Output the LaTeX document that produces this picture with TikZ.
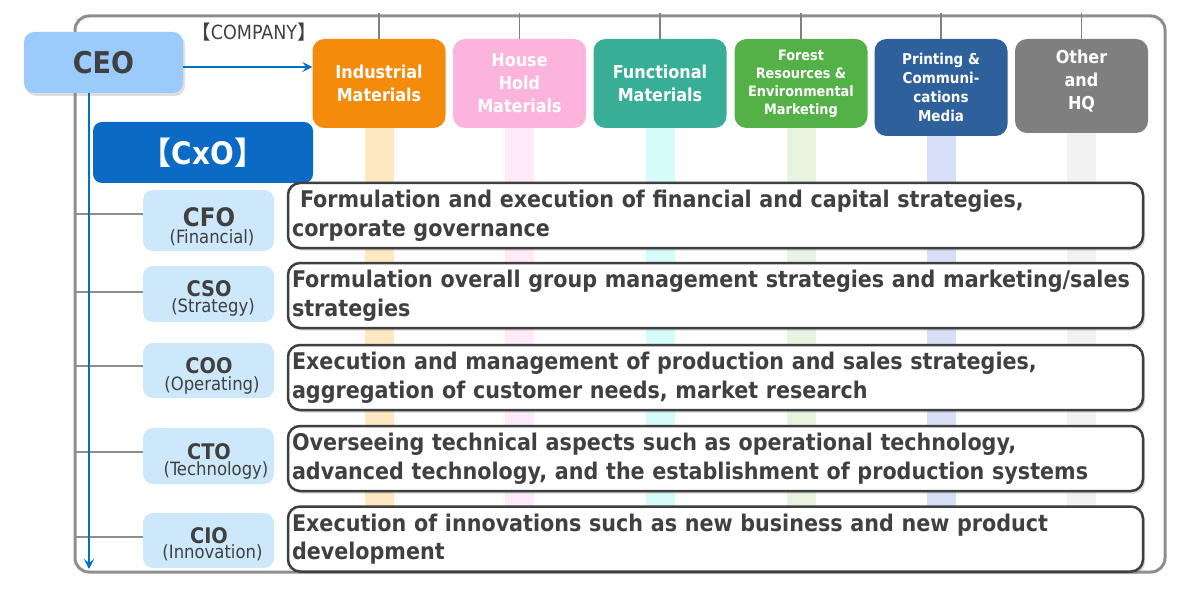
\documentclass[tikz,border=0pt]{standalone}
\usepackage{fontspec}
\setmainfont{DejaVu Sans Condensed}
\newfontfamily\cjk{Noto Sans CJK JP}
\usetikzlibrary{shadows,arrows.meta}
\definecolor{cInd}{HTML}{F58B0A}
\definecolor{cHouse}{HTML}{FDB4DC}
\definecolor{cFunc}{HTML}{39AE97}
\definecolor{cForest}{HTML}{54B147}
\definecolor{cPrint}{HTML}{2E619B}
\definecolor{cOther}{HTML}{7F7F7F}
\definecolor{bInd}{HTML}{FDE8C2}
\definecolor{bHouse}{HTML}{FDEAFB}
\definecolor{bFunc}{HTML}{D5FBFB}
\definecolor{bForest}{HTML}{E8F4E0}
\definecolor{bPrint}{HTML}{D8E0F8}
\definecolor{bOther}{HTML}{F2F2F2}
\definecolor{ceoc}{HTML}{9BCBFA}
\definecolor{rolec}{HTML}{CDE8FA}
\definecolor{cxoc}{HTML}{0A6AC4}
\definecolor{tgray}{HTML}{404040}
\definecolor{dline}{HTML}{3F3F3F}
\definecolor{framec}{HTML}{8E8E8E}
\definecolor{arrc}{HTML}{0070C0}
\begin{document}
\begin{tikzpicture}[x=1pt,y=-1pt,
  frame/.style={draw=framec,line width=3pt,rounded corners=14pt},
  conn/.style={draw=framec!90!black,line width=1.4pt},
  gline/.style={draw=framec,line width=1.4pt},
  cbox/.style={rounded corners=12pt,minimum width=133pt,inner sep=0pt,align=center,text=white,
    font=\bfseries\fontsize{17.8}{23}\selectfont},
  arr/.style={draw=arrc,line width=2.2pt,-{Stealth[length=10pt,width=10pt,inset=4pt]}},
  ceobox/.style={fill=ceoc,rounded corners=10pt,minimum width=159pt,minimum height=61pt,inner sep=0pt,
    text=tgray,font=\bfseries\fontsize{30}{30}\selectfont,
    drop shadow={shadow xshift=2pt,shadow yshift=-3pt,opacity=0.25}},
  cxobox/.style={fill=cxoc,rounded corners=9pt,minimum width=220pt,minimum height=61pt,inner sep=0pt,
    text=white,font=\bfseries\fontsize{31}{31}\selectfont},
  rbox/.style={fill=rolec,rounded corners=10pt,minimum width=131pt,inner sep=0pt},
  rtitle/.style={anchor=base,inner sep=0pt,text=tgray,font=\bfseries\fontsize{21.5}{22}\selectfont},
  rsub/.style={anchor=base,inner sep=0pt,text=tgray,font=\fontsize{18.3}{19}\selectfont},
  dbox/.style={draw=dline,line width=2.5pt,rounded corners=12pt,fill=white,text width=847pt,
    inner xsep=4pt,inner ysep=0pt,minimum height=65pt,align=left,text=tgray,
    font=\bfseries\fontsize{23}{28.5}\selectfont,
    drop shadow={shadow xshift=2pt,shadow yshift=-2.5pt,opacity=0.3}}
]
\useasboundingbox[fill=white] (0,0) rectangle (1200,591);
% outer frame
\draw[frame] (75,16) rectangle (1165,572);
\coordinate (topy) at (0,13);
\coordinate (bandbot) at (0,566);
% company boxes
\node[cbox,fill=cInd,minimum height=89pt] (ind) at (379,83.5) {Industrial\\Materials};
\node[cbox,fill=cHouse,minimum height=89pt] (house) at (519.5,83.5) {House\\Hold\\Materials};
\node[cbox,fill=cFunc,minimum height=89pt] (func) at (660,83.5) {Functional\\Materials};
\node[cbox,fill=cForest,minimum height=89pt,font=\bfseries\fontsize{14.3}{18}\selectfont] (forest) at (801,83.5) {Forest\\Resources \&\\Environmental\\Marketing};
\node[cbox,fill=cPrint,minimum height=97pt,font=\bfseries\fontsize{15}{19}\selectfont] (print) at (941,87.5) {Printing \&\\Communi-\\cations\\Media};
\node[cbox,fill=cOther,minimum height=94pt] (other) at (1081.5,86) {Other\\and\\HQ\\[-10pt]\mbox{}};
% top connectors
\foreach \n in {ind,house,func,forest,print,other}
  \draw[conn] (\n.north) -- (\n.north |- topy);
% pale bands
\fill[bInd] ([xshift=-14.5pt]ind.south) rectangle ([xshift=14.5pt]ind.south |- bandbot);
\fill[bHouse] ([xshift=-14.5pt]house.south) rectangle ([xshift=14.5pt]house.south |- bandbot);
\fill[bFunc] ([xshift=-14.5pt]func.south) rectangle ([xshift=14.5pt]func.south |- bandbot);
\fill[bForest] ([xshift=-14.5pt]forest.south) rectangle ([xshift=14.5pt]forest.south |- bandbot);
\fill[bPrint] ([xshift=-14.5pt]print.south) rectangle ([xshift=14.5pt]print.south |- bandbot);
\fill[bOther] ([xshift=-14.5pt]other.south) rectangle ([xshift=14.5pt]other.south |- bandbot);
% company label
\node[inner sep=0pt,text=tgray,font=\fontsize{19.5}{19.5}\selectfont] (comp) at (254,32) {{\cjk 【}COMPANY{\cjk 】}};
% CEO
\node[ceobox] (ceo) at (103.5,62.5) {CEO};
\draw[arr] ([yshift=-4.5pt]ceo.east) -- ([yshift=-4.5pt]ceo.east -| ind.west);
% CxO
\node[cxobox] (cxo) at (203,152.5) {{\cjk\bfseries 【}CxO{\cjk\bfseries 】}};
% role boxes
\node[rbox,minimum height=61pt] (cfo) at (208.5,220.5) {};
\node[rbox,minimum height=56pt] (cso) at (208.5,294) {};
\node[rbox,minimum height=55pt] (coo) at (208.5,370.5) {};
\node[rbox,minimum height=56pt] (cto) at (208.5,456) {};
\node[rbox,minimum height=55pt] (cio) at (208.5,540.5) {};
\draw[gline] ([yshift=6.5pt]cfo.west) -- ++(-68,0);
\draw[gline] ([yshift=2pt]cso.west) -- ++(-68,0);
\draw[gline] ([yshift=4.5pt]coo.west) -- ++(-68,0);
\draw[gline] ([yshift=4pt]cto.west) -- ++(-68,0);
\draw[gline] ([yshift=3.5pt]cio.west) -- ++(-68,0);
% CEO down line
\coordinate (vend) at (89,569);
\draw[arr] (vend |- ceo.south) -- (vend);
% role texts
\node[rtitle,font=\bfseries\fontsize{25.5}{26}\selectfont] (cfoa) at (209,226.5) {CFO};
\node[rsub] (cfob) at (212,243.5) {(Financial)};
\node[rtitle] (csoa) at (209,296.5) {CSO};
\node[rsub] (csob) at (213,312.5) {(Strategy)};
\node[rtitle] (cooa) at (209,373.5) {COO};
\node[rsub] (coob) at (212,390.5) {(Operating)};
\node[rtitle] (ctoa) at (209,459.5) {CTO};
\node[rsub] (ctob) at (216,475.5) {(Technology)};
\node[rtitle] (cioa) at (209,543.5) {CIO};
\node[rsub] (ciob) at (212.5,558.5) {(Innovation)};
% description boxes
\node[dbox] (cfod) at (715.5,215.5) {\hspace{8pt}Formulation and execution of financial and capital strategies,\\corporate governance};
\node[dbox] (csod) at (715.5,295.5) {Formulation overall group management strategies and marketing/sales\\strategies};
\node[dbox] (cood) at (715.5,377.5) {Execution and management of production and sales strategies,\\aggregation of customer needs, market research};
\node[dbox] (ctod) at (715.5,458.5) {Overseeing technical aspects such as operational technology,\\advanced technology, and the establishment of production systems};
\node[dbox] (ciod) at (715.5,539) {Execution of innovations such as new business and new product\\development};
\end{tikzpicture}
\end{document}
